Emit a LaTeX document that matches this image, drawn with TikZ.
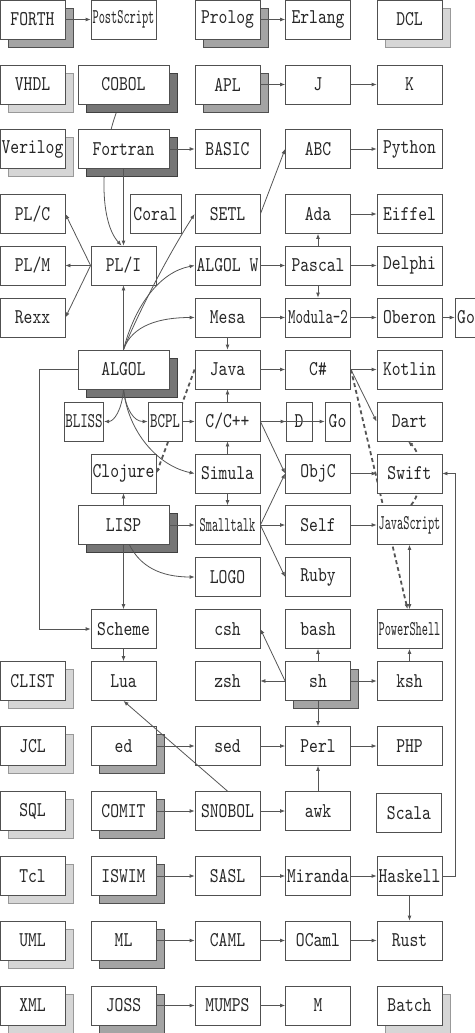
\documentclass[tikz,border=0pt]{standalone}
\usepackage{fontspec}
\newfontfamily\boxfont{lmmono10-regular.otf}[FakeStretch=0.8]
\newfontfamily\semifont{lmmono10-regular.otf}[FakeStretch=0.68]
\newfontfamily\sqzfont{lmmono10-regular.otf}[FakeStretch=0.56]
\usepackage{tikz}
\usetikzlibrary{arrows.meta,shadows}
\pgfdeclarelayer{bg}
\pgfsetlayers{bg,main}
\definecolor{boxline}{HTML}{505050}
\definecolor{arrline}{HTML}{555555}
\definecolor{shmidfill}{HTML}{A4A4A4}
\definecolor{shlightfill}{HTML}{D6D6D6}
\definecolor{shdarkfill}{HTML}{767676}

\tikzset{
  lang/.style={draw=boxline,fill=white,line width=0.8pt,minimum width=65pt,minimum height=39pt,
    inner sep=1pt,text=black!85,font=\boxfont\fontsize{21pt}{21pt}\selectfont},
  wide/.style={lang,minimum width=91pt},
  semi/.style={font=\semifont\fontsize{21pt}{21pt}\selectfont},
  sqz/.style={font=\sqzfont\fontsize{21pt}{21pt}\selectfont},
  shmid/.style={general shadow={shadow xshift=8pt,shadow yshift=-8pt,fill=shmidfill,draw=boxline,line width=0.8pt}},
  shlight/.style={general shadow={shadow xshift=8pt,shadow yshift=-8pt,fill=shlightfill,draw=gray!80,line width=0.8pt}},
  shdark/.style={general shadow={shadow xshift=8pt,shadow yshift=-8pt,fill=shdarkfill,draw=black!75,line width=0.8pt}},
  arr/.style={->,draw=arrline,line width=0.8pt},
  dash line/.style={->,draw=arrline,line width=1.8pt,dash pattern=on 4pt off 3pt}
}

\begin{document}
\begin{tikzpicture}[x=1pt,y=-1pt,>={Latex[length=5pt,width=4pt]}]
\useasboundingbox (0,0) rectangle (474,1033);
% row 1
\node[lang,shmid] (forth) at (32.5,19.5) {FORTH};
\node[lang,sqz] (postscript) at (123.5,19.5) {PostScript};
\node[lang,shmid] (prolog) at (227.5,19.5) {Prolog};
\node[lang] (erlang) at (318,19.5) {Erlang};
\node[lang,shlight] (dcl) at (409.5,19.5) {DCL};
% row 2
\node[lang,shlight] (vhdl) at (32.5,84.5) {VHDL};
\node[wide,shdark] (cobol) at (123.5,84.5) {COBOL};
\node[lang,shmid] (apl) at (227.5,84.5) {APL};
\node[lang] (j) at (318,84.5) {J};
\node[lang] (k) at (409.5,84.5) {K};
% row 3
\node[lang,shlight] (verilog) at (32.5,149) {Verilog};
\node[wide,shdark] (fortran) at (123.5,149) {Fortran};
\node[lang] (basic) at (227.5,149) {BASIC};
\node[lang] (abc) at (318,149) {ABC};
\node[lang] (python) at (409.5,149) {Python};
% row 4
\node[lang] (plc) at (32.5,214) {PL/C};
\node[lang,minimum width=51pt] (coral) at (155.5,214) {Coral};
\node[lang] (setl) at (227.5,214) {SETL};
\node[lang] (ada) at (318,214) {Ada};
\node[lang] (eiffel) at (409.5,214) {Eiffel};
% row 5
\node[lang] (plm) at (32.5,265.5) {PL/M};
\node[lang] (pli) at (123.5,265.5) {PL/I};
\node[lang] (algolw) at (227.5,265.5) {ALGOL W};
\node[lang] (pascal) at (318,265.5) {Pascal};
\node[lang] (delphi) at (409.5,265.5) {Delphi};
% row 6
\node[lang] (rexx) at (32.5,317.5) {Rexx};
\node[lang] (mesa) at (227.5,317.5) {Mesa};
\node[lang,semi] (modula) at (318,317.5) {Modula-2};
\node[lang] (oberon) at (409.5,317.5) {Oberon};
\node[lang,minimum width=22pt,inner sep=0pt] (go) at (466,317.5) {Go};
% row 7
\node[wide,shdark] (algol) at (123.5,369.5) {ALGOL};
\node[lang] (java) at (227.5,369.5) {Java};
\node[lang] (csharp) at (318,369.5) {C\#};
\node[lang] (kotlin) at (409.5,369.5) {Kotlin};
% row 8
\node[lang,semi,minimum width=38pt] (bliss) at (84,421.5) {BLISS};
\node[lang,semi,minimum width=34pt] (bcpl) at (165,421.5) {BCPL};
\node[lang] (cpp) at (227.5,421.5) {C/C++};
\node[lang,minimum width=26pt] (d) at (299,421.5) {D};
\node[lang,minimum width=25pt] (golang) at (337.5,421.5) {Go};
\node[lang] (dart) at (409.5,421.5) {Dart};
% row 9
\node[lang] (clojure) at (123.5,473.5) {Clojure};
\node[lang] (simula) at (227.5,473.5) {Simula};
\node[lang] (objc) at (318,473.5) {ObjC};
\node[lang] (swift) at (409.5,473.5) {Swift};
% row 10
\node[wide,shdark] (lisp) at (123.5,525) {LISP};
\node[lang,sqz] (smalltalk) at (227.5,525) {Smalltalk};
\node[lang] (self) at (318,525) {Self};
\node[lang,sqz] (javascript) at (409.5,525) {JavaScript};
% row 11
\node[lang] (logo) at (227.5,577) {LOGO};
\node[lang] (ruby) at (318,577) {Ruby};
% row 12
\node[lang] (scheme) at (123.5,629) {Scheme};
\node[lang] (csh) at (227.5,629) {csh};
\node[lang] (bash) at (318,629) {bash};
\node[lang,sqz] (powershell) at (409.5,629) {PowerShell};
% row 13
\node[lang,shlight] (clist) at (32.5,681) {CLIST};
\node[lang] (lua) at (123.5,681) {Lua};
\node[lang] (zsh) at (227.5,681) {zsh};
\node[lang,shmid] (sh) at (318,681) {sh};
\node[lang] (ksh) at (409.5,681) {ksh};
% row 14
\node[lang,shlight] (jcl) at (32.5,746) {JCL};
\node[lang,shmid] (ed) at (123.5,746) {ed};
\node[lang] (sed) at (227.5,746) {sed};
\node[lang] (perl) at (318,746) {Perl};
\node[lang] (php) at (409.5,746) {PHP};
% row 15
\node[lang,shlight] (sql) at (32.5,811) {SQL};
\node[lang,shmid] (comit) at (123.5,811) {COMIT};
\node[lang] (snobol) at (227.5,811) {SNOBOL};
\node[lang] (awk) at (318,811) {awk};
\node[lang] (scala) at (409,813) {Scala};
% row 16
\node[lang,shlight] (tcl) at (32.5,876) {Tcl};
\node[lang,shmid] (iswim) at (123.5,876) {ISWIM};
\node[lang] (sasl) at (227.5,876) {SASL};
\node[lang] (miranda) at (318,876) {Miranda};
\node[lang] (haskell) at (409.5,876) {Haskell};
% row 17
\node[lang,shlight] (uml) at (32.5,940.5) {UML};
\node[lang,shmid] (ml) at (123.5,940.5) {ML};
\node[lang] (caml) at (227.5,940.5) {CAML};
\node[lang] (ocaml) at (318,940.5) {OCaml};
\node[lang] (rust) at (409.5,940.5) {Rust};
% row 18
\node[lang,shlight] (xml) at (32.5,1005.5) {XML};
\node[lang,shmid] (joss) at (123.5,1005.5) {JOSS};
\node[lang] (mumps) at (227.5,1005.5) {MUMPS};
\node[lang] (m) at (318,1005.5) {M};
\node[lang,shlight] (batch) at (409.5,1005.5) {Batch};

% links hidden behind boxes
\begin{pgfonlayer}{bg}
\draw[arr] ([xshift=-4pt]cobol.south) .. controls (100,150) and (98,220) .. ([xshift=-2pt]pli.north);
\draw[dash line] (java.west) -- (clojure.east);
\draw[dash line] (csharp.east) -- ([xshift=-2pt]powershell.north);
\draw[dash line] ([xshift=1.5pt]javascript.north) .. controls (424,490) and (424,456) .. ([xshift=-1.5pt]dart.south);
\end{pgfonlayer}

\draw[arr] (forth) -- (postscript);
\draw[arr] (prolog) -- (erlang);
\draw[arr] (apl) -- (j);
\draw[arr] (j) -- (k);
\draw[arr] (fortran) -- (basic);
\draw[arr] (fortran) -- (pli);
\draw[arr] (setl.east) -- (abc.west);
\draw[arr] (abc) -- (python);
\draw[arr] (ada) -- (eiffel);
\draw[arr] (pascal) -- (ada);
\draw[arr] (algolw) -- (pascal);
\draw[arr] (pascal) -- (delphi);
\draw[arr] (pascal) -- (modula);
\draw[arr] (pli.west) -- (plc.east);
\draw[arr] (pli) -- (plm);
\draw[arr] (pli.west) -- (rexx.east);
\draw[arr] (mesa) -- (modula);
\draw[arr] (modula) -- (oberon);
\draw[arr] (oberon) -- (go);
\draw[arr] (mesa) -- (java);
\draw[arr] (algol) -- (pli);
\draw[arr] (algol.north) .. controls (135,320) and (165,260) .. (setl.west);
\draw[arr] (algol.north) .. controls (135,305) and (160,272) .. (algolw.west);
\draw[arr] (algol.north) .. controls (132,325) and (160,317.5) .. (mesa.west);
\draw[arr] (algol.south) .. controls (122,410) and (114,421.5) .. (bliss.east);
\draw[arr] (algol.south) .. controls (126,410) and (134,421.5) .. (bcpl.west);
\draw[arr] (algol.south) .. controls (128,432) and (158,466) .. (simula.west);
\draw[arr] (algol.west) -- ++(-38,0) |- (scheme.west);
\draw[arr] (java) -- (csharp);
\draw[arr] (csharp.east) -- (kotlin.west);
\draw[arr] (csharp.east) -- (dart.west);
\draw[arr] (bcpl) -- (cpp);
\draw[arr] (cpp) -- (java);
\draw[arr] (simula) -- (cpp);
\draw[arr] (simula) -- (smalltalk);
\draw[arr] (cpp) -- (d);
\draw[arr] (cpp) -- (golang);
\draw[arr] (cpp.east) -- (objc.west);
\draw[arr] (smalltalk.east) -- (objc.west);
\draw[arr] (smalltalk) -- (self);
\draw[arr] (smalltalk.east) -- (ruby.west);
\draw[arr] (objc) -- (swift);
\draw[arr] (self) -- (javascript);
\draw[<->,draw=arrline,line width=0.8pt] (javascript) -- (powershell);
\draw[arr] (lisp) -- (smalltalk);
\draw[arr] (lisp) -- (clojure);
\draw[arr] (lisp) -- (scheme);
\draw[arr] ([xshift=6pt]lisp.south) .. controls (140,566) and (160,577) .. (logo.west);
\draw[arr] (scheme) -- (lua);
\draw[arr] (snobol.north) -- (lua.south);
\draw[arr] (sh) -- (bash);
\draw[arr] (sh) -- (zsh);
\draw[arr] (sh.west) -- (csh.east);
\draw[arr] (sh) -- (ksh);
\draw[arr] (ksh) -- (powershell);
\draw[arr] (sh) -- (perl);
\draw[arr] (ed) -- (sed);
\draw[arr] (sed) -- (perl);
\draw[arr] (perl) -- (php);
\draw[arr] (awk) -- (perl);
\draw[arr] (comit) -- (snobol);
\draw[arr] (snobol) -- (awk);
\draw[arr] (iswim) -- (sasl);
\draw[arr] (sasl) -- (miranda);
\draw[arr] (miranda) -- (haskell);
\draw[arr] (haskell) -- (rust);
\draw[arr] (haskell.east) -- ++(13,0) |- (swift.east);
\draw[arr] (ml) -- (caml);
\draw[arr] (caml) -- (ocaml);
\draw[arr] (ocaml) -- (rust);
\draw[arr] (joss) -- (mumps);
\draw[arr] (mumps) -- (m);
\end{tikzpicture}
\end{document}
